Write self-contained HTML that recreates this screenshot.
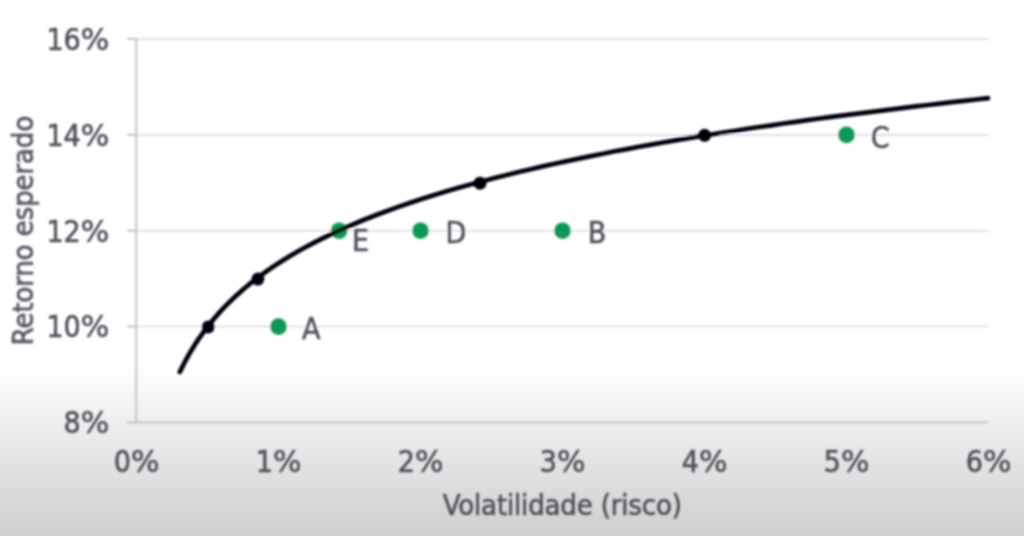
<!DOCTYPE html>
<html><head><meta charset="utf-8"><style>
html,body{margin:0;padding:0;width:1024px;height:536px;overflow:hidden;background:#fff}
svg{display:block}
text{font-family:"DejaVu Sans Condensed","DejaVu Sans","Liberation Sans",sans-serif;font-stretch:condensed;font-size:29px;fill:#55505d;stroke:#55505d;stroke-width:0.6px}
.l{font-size:30px}
.p{font-family:"DejaVu Sans","Liberation Sans",sans-serif;font-stretch:normal}
</style></head><body>
<svg width="1024" height="536" viewBox="0 0 1024 536">
<defs>
<linearGradient id="bg" x1="0" y1="0" x2="0" y2="536" gradientUnits="userSpaceOnUse">
<stop offset="0" stop-color="#ffffff"/>
<stop offset="0.68" stop-color="#ffffff"/>
<stop offset="1" stop-color="#cfcfcf"/>
</linearGradient>
<filter id="bl" x="0" y="0" width="1" height="1"><feGaussianBlur stdDeviation="0.8"/></filter>
</defs>
<rect x="0" y="0" width="1024" height="536" fill="url(#bg)"/>
<g filter="url(#bl)">
<g stroke="#e8dde8" stroke-width="2" fill="none">
<line x1="137" y1="39.0" x2="988.5" y2="39.0"/>
<line x1="137" y1="134.9" x2="988.5" y2="134.9"/>
<line x1="137" y1="230.7" x2="988.5" y2="230.7"/>
<line x1="137" y1="326.6" x2="988.5" y2="326.6"/>
</g>
<g stroke="#c7c0c9" stroke-width="2" fill="none">
<line x1="136.2" y1="38.0" x2="136.2" y2="422.5"/>
<line x1="127" y1="39.0" x2="136" y2="39.0"/><line x1="127" y1="134.9" x2="136" y2="134.9"/><line x1="127" y1="230.7" x2="136" y2="230.7"/><line x1="127" y1="326.6" x2="136" y2="326.6"/>
<line x1="127" y1="422.5" x2="988.5" y2="422.5"/>
</g>
<g text-anchor="end">
<text class="l" x="109.3" y="49.8">16<tspan class="p">%</tspan></text>
<text class="l" x="109.3" y="145.7">14<tspan class="p">%</tspan></text>
<text class="l" x="109.3" y="241.5">12<tspan class="p">%</tspan></text>
<text class="l" x="109.3" y="337.4">10<tspan class="p">%</tspan></text>
<text class="l" x="109.3" y="433.3">8<tspan class="p">%</tspan></text>
</g>
<g text-anchor="middle">
<text class="l" x="136.6" y="471.8">0<tspan class="p">%</tspan></text>
<text class="l" x="278.6" y="471.8">1<tspan class="p">%</tspan></text>
<text class="l" x="420.6" y="471.8">2<tspan class="p">%</tspan></text>
<text class="l" x="562.6" y="471.8">3<tspan class="p">%</tspan></text>
<text class="l" x="704.6" y="471.8">4<tspan class="p">%</tspan></text>
<text class="l" x="846.6" y="471.8">5<tspan class="p">%</tspan></text>
<text class="l" x="988.6" y="471.8">6<tspan class="p">%</tspan></text>
</g>
<text x="562.3" y="514.6" text-anchor="middle" letter-spacing="-0.18">Volatilidade (risco)</text>
<text transform="translate(32.9,230.6) rotate(-90)" text-anchor="middle" letter-spacing="-0.13">Retorno esperado</text>
<g fill="#0c9954">
<circle cx="278.5" cy="326.6" r="8.3"/>
<circle cx="339.1" cy="230.7" r="8.3"/>
<circle cx="420.5" cy="230.7" r="8.3"/>
<circle cx="562.5" cy="230.7" r="8.3"/>
<circle cx="846.5" cy="134.9" r="8.3"/>
</g>
<polyline points="179.8,372.0 182.3,366.9 184.7,362.2 187.2,357.6 189.6,353.3 192.1,349.2 194.5,345.2 197.0,341.4 199.4,337.8 201.9,334.3 204.4,330.9 206.8,327.7 209.3,324.5 211.7,321.5 214.2,318.5 216.6,315.7 219.1,312.9 221.5,310.2 224.0,307.6 226.4,305.1 228.9,302.6 231.4,300.2 233.8,297.9 236.3,295.6 238.7,293.4 241.2,291.2 243.6,289.0 246.1,287.0 248.5,284.9 251.0,282.9 253.5,281.0 255.9,279.1 258.4,277.2 260.8,275.4 263.3,273.6 265.7,271.8 268.2,270.1 270.6,268.4 273.1,266.7 275.5,265.1 278.0,263.5 290.0,256.0 302.1,249.0 314.1,242.6 326.1,236.6 338.2,230.9 350.2,225.6 362.2,220.5 374.3,215.7 386.3,211.2 398.3,206.9 410.4,202.7 422.4,198.8 434.4,195.0 446.5,191.3 458.5,187.8 470.5,184.4 482.6,181.2 494.6,178.0 506.6,175.0 518.7,172.0 530.7,169.2 542.7,166.4 554.8,163.7 566.8,161.1 578.8,158.6 590.9,156.1 602.9,153.7 614.9,151.3 627.0,149.1 639.0,146.8 651.1,144.6 663.1,142.5 675.1,140.4 687.2,138.4 699.2,136.4 711.2,134.5 723.3,132.5 735.3,130.7 747.3,128.8 759.4,127.0 771.4,125.3 783.4,123.5 795.5,121.8 807.5,120.2 819.5,118.5 831.6,116.9 843.6,115.4 855.6,113.8 867.7,112.3 879.7,110.8 891.7,109.3 903.8,107.8 915.8,106.4 927.8,105.0 939.9,103.6 951.9,102.2 963.9,100.9 976.0,99.5 988.0,98.2" fill="none" stroke="#060409" stroke-width="4.7" stroke-linecap="round" stroke-linejoin="round"/>
<g fill="#060409">
<circle cx="208.2" cy="327.0" r="6.5"/>
<circle cx="257.9" cy="279.1" r="6.5"/>
<circle cx="480.0" cy="183.2" r="6.5"/>
<circle cx="704.6" cy="135.3" r="6.5"/>
</g>
<text class="l" x="302.0" y="338.7">A</text>
<text class="l" x="352.1" y="251.4">E</text>
<text class="l" x="445.4" y="242.8">D</text>
<text class="l" x="587.7" y="242.8">B</text>
<text class="l" x="870.7" y="147.5">C</text>
</g>
</svg>
</body></html>
